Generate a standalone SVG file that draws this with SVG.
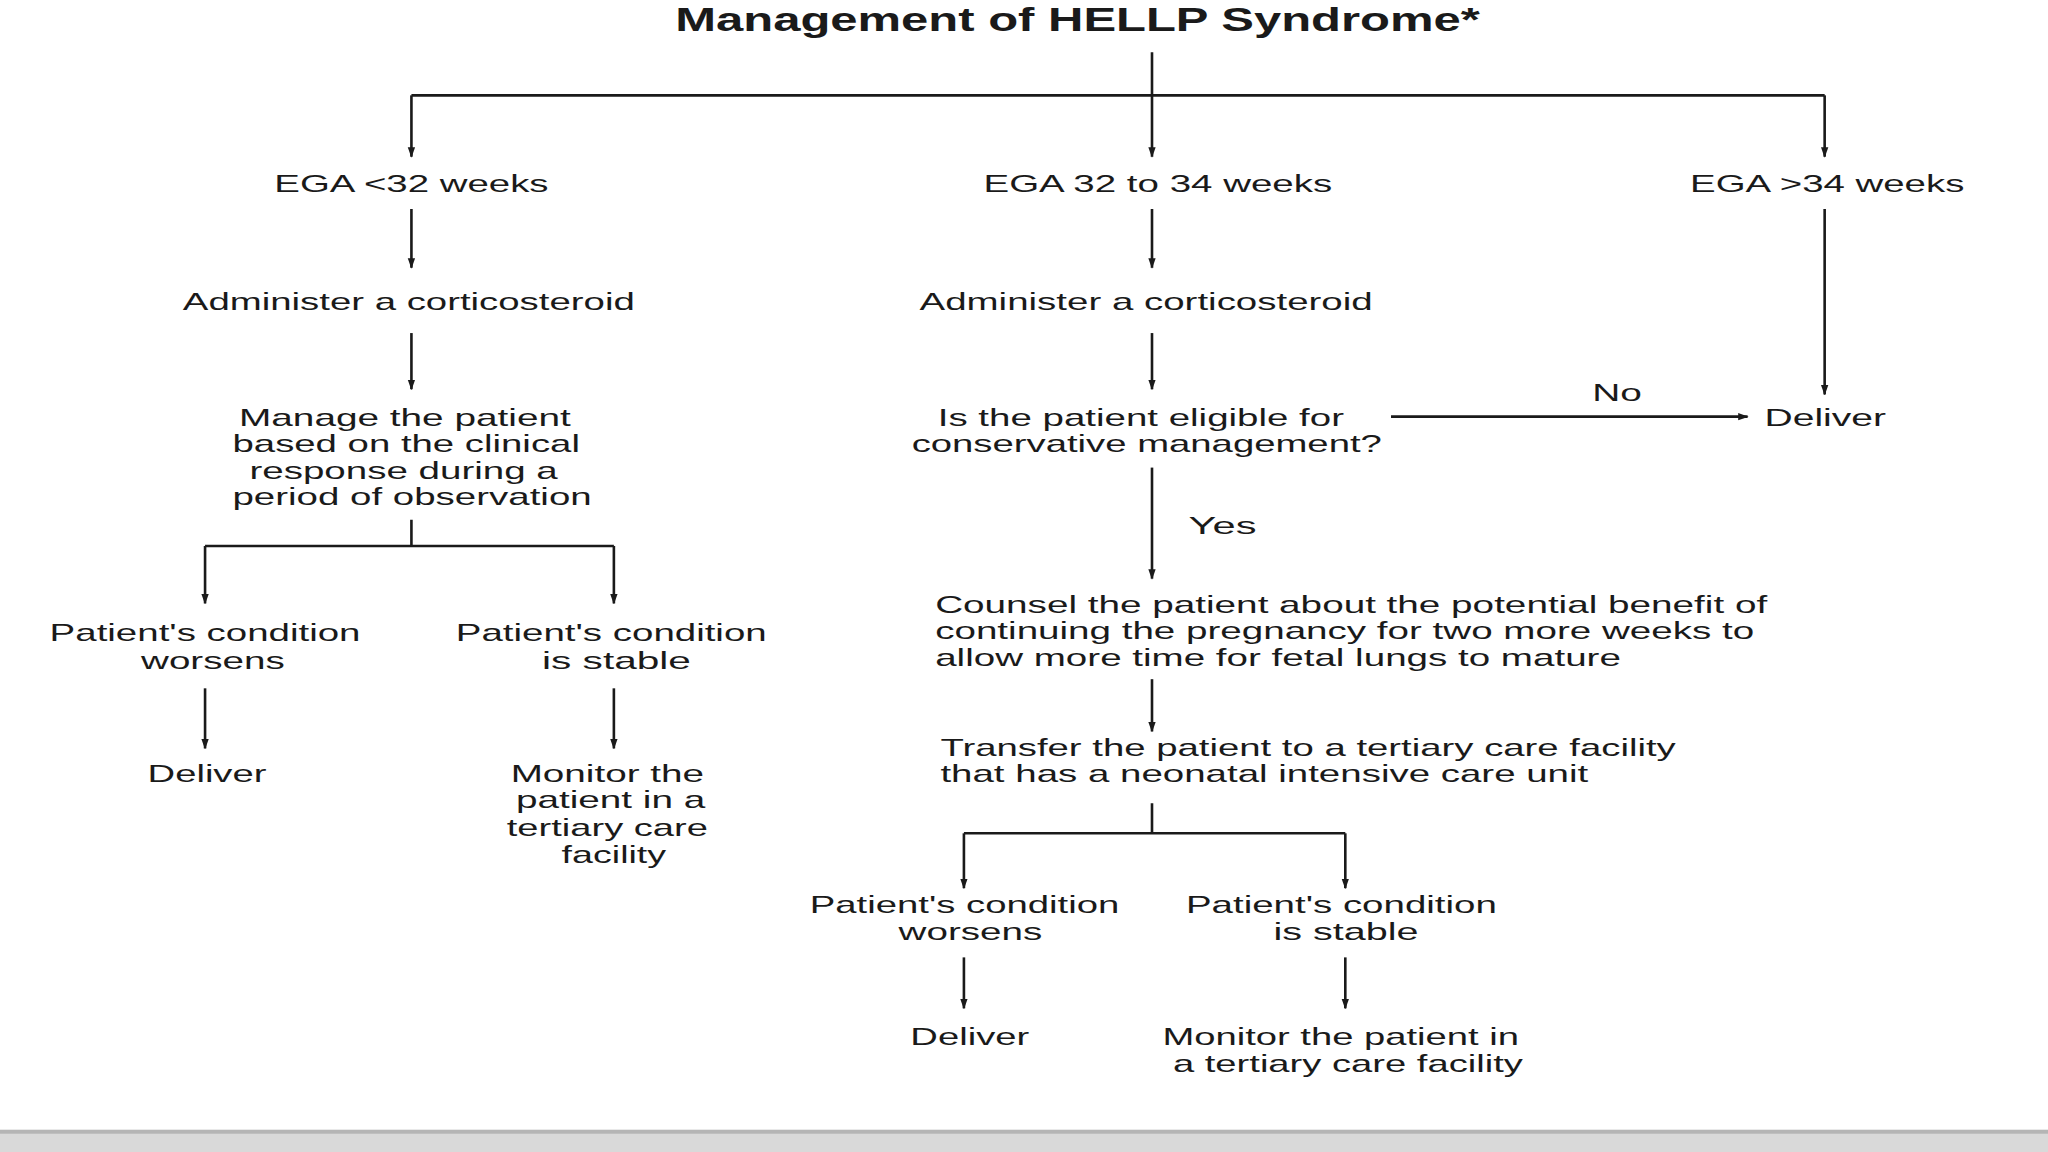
<svg xmlns="http://www.w3.org/2000/svg" width="2048" height="1152" viewBox="0 0 2048 1152">
<style>
text{font-family:"Liberation Sans",Arial,sans-serif;font-size:19px;fill:#1a1a1a}
.t{font-size:26px;font-weight:bold}
.c path{stroke:#1a1a1a;stroke-width:2;fill:none}
.c .ar{marker-end:url(#a)}
</style>
<defs><marker id="a" viewBox="0 0 10 10" refX="9" refY="5" markerWidth="8" markerHeight="8" orient="auto" markerUnits="userSpaceOnUse"><path d="M0,1.5 L10,5 L0,8.5 z" fill="#1a1a1a"/></marker></defs>
<rect width="2048" height="1152" fill="#fff"/>
<g transform="scale(1.30612)">
<g id="connectors" class="c">
<path d="M882,40V73M315,73H1397"/>
<path class="ar" d="M315,73V120"/><path class="ar" d="M882,73V120"/><path class="ar" d="M1397,73V120"/>
<path class="ar" d="M315,160V205"/><path class="ar" d="M882,160V205"/><path class="ar" d="M1397,160V302"/>
<path class="ar" d="M315,255V298"/><path class="ar" d="M882,255V298"/><path class="ar" d="M1065,319H1338"/><path class="ar" d="M882,358V443"/>
<path d="M315,398V418M157,418H470"/>
<path class="ar" d="M157,418V462"/><path class="ar" d="M470,418V462"/><path class="ar" d="M157,527V573"/><path class="ar" d="M470,527V573"/><path class="ar" d="M882,520V560"/>
<path d="M882,615V638M738,638H1030"/>
<path class="ar" d="M738,638V680"/><path class="ar" d="M1030,638V680"/><path class="ar" d="M738,733V772"/><path class="ar" d="M1030,733V772"/>
</g>
<g id="labels"><text x="1219" y="307" textLength="38" lengthAdjust="spacingAndGlyphs">No</text><text x="910" y="409" textLength="52" lengthAdjust="spacingAndGlyphs">Yes</text></g>
<g id="title"><text class="t" x="517" y="24" textLength="616" lengthAdjust="spacingAndGlyphs">Management of HELLP Syndrome*</text></g>
<g id="ega1"><text x="210" y="147" textLength="210" lengthAdjust="spacingAndGlyphs">EGA &lt;32 weeks</text></g>
<g id="ega2"><text x="753" y="147" textLength="267" lengthAdjust="spacingAndGlyphs">EGA 32 to 34 weeks</text></g>
<g id="ega3"><text x="1294" y="147" textLength="210" lengthAdjust="spacingAndGlyphs">EGA &gt;34 weeks</text></g>
<g id="cort1"><text x="140" y="237" textLength="346" lengthAdjust="spacingAndGlyphs">Administer a corticosteroid</text></g>
<g id="cort2"><text x="704" y="237" textLength="347" lengthAdjust="spacingAndGlyphs">Administer a corticosteroid</text></g>
<g id="manage"><text x="183" y="326" textLength="254" lengthAdjust="spacingAndGlyphs">Manage the patient</text><text x="178" y="346" textLength="266" lengthAdjust="spacingAndGlyphs">based on the clinical</text><text x="191" y="367" textLength="236" lengthAdjust="spacingAndGlyphs">response during a</text><text x="178" y="387" textLength="275" lengthAdjust="spacingAndGlyphs">period of observation</text></g>
<g id="eligible"><text x="718" y="326" textLength="311" lengthAdjust="spacingAndGlyphs">Is the patient eligible for</text><text x="698" y="346" textLength="360" lengthAdjust="spacingAndGlyphs">conservative management?</text></g>
<g id="deliver3"><text x="1351" y="326" textLength="93" lengthAdjust="spacingAndGlyphs">Deliver</text></g>
<g id="worse1"><text x="38" y="491" textLength="238" lengthAdjust="spacingAndGlyphs">Patient's condition</text><text x="108" y="512" textLength="110" lengthAdjust="spacingAndGlyphs">worsens</text></g>
<g id="stable1"><text x="349" y="491" textLength="238" lengthAdjust="spacingAndGlyphs">Patient's condition</text><text x="415" y="512" textLength="114" lengthAdjust="spacingAndGlyphs">is stable</text></g>
<g id="deliver1"><text x="113" y="599" textLength="91" lengthAdjust="spacingAndGlyphs">Deliver</text></g>
<g id="monitor1"><text x="391" y="599" textLength="148" lengthAdjust="spacingAndGlyphs">Monitor the</text><text x="395" y="619" textLength="145" lengthAdjust="spacingAndGlyphs">patient in a</text><text x="388" y="640" textLength="154" lengthAdjust="spacingAndGlyphs">tertiary care</text><text x="430" y="661" textLength="80" lengthAdjust="spacingAndGlyphs">facility</text></g>
<g id="counsel"><text x="716" y="469" textLength="637" lengthAdjust="spacingAndGlyphs">Counsel the patient about the potential benefit of</text><text x="716" y="489" textLength="627" lengthAdjust="spacingAndGlyphs">continuing the pregnancy for two more weeks to</text><text x="716" y="510" textLength="525" lengthAdjust="spacingAndGlyphs">allow more time for fetal lungs to mature</text></g>
<g id="transfer"><text x="720" y="579" textLength="563" lengthAdjust="spacingAndGlyphs">Transfer the patient to a tertiary care facility</text><text x="720" y="599" textLength="496" lengthAdjust="spacingAndGlyphs">that has a neonatal intensive care unit</text></g>
<g id="worse2"><text x="620" y="699" textLength="237" lengthAdjust="spacingAndGlyphs">Patient's condition</text><text x="688" y="720" textLength="110" lengthAdjust="spacingAndGlyphs">worsens</text></g>
<g id="stable2"><text x="908" y="699" textLength="238" lengthAdjust="spacingAndGlyphs">Patient's condition</text><text x="975" y="720" textLength="111" lengthAdjust="spacingAndGlyphs">is stable</text></g>
<g id="deliver2"><text x="697" y="800" textLength="91" lengthAdjust="spacingAndGlyphs">Deliver</text></g>
<g id="monitor2"><text x="890" y="800" textLength="273" lengthAdjust="spacingAndGlyphs">Monitor the patient in</text><text x="898" y="821" textLength="268" lengthAdjust="spacingAndGlyphs">a tertiary care facility</text></g>
<rect x="0" y="865" width="1568" height="20" fill="#d9d9d9"/>
<rect x="0" y="865" width="1568" height="3" fill="#b5b5b5"/>
</g>
</svg>
